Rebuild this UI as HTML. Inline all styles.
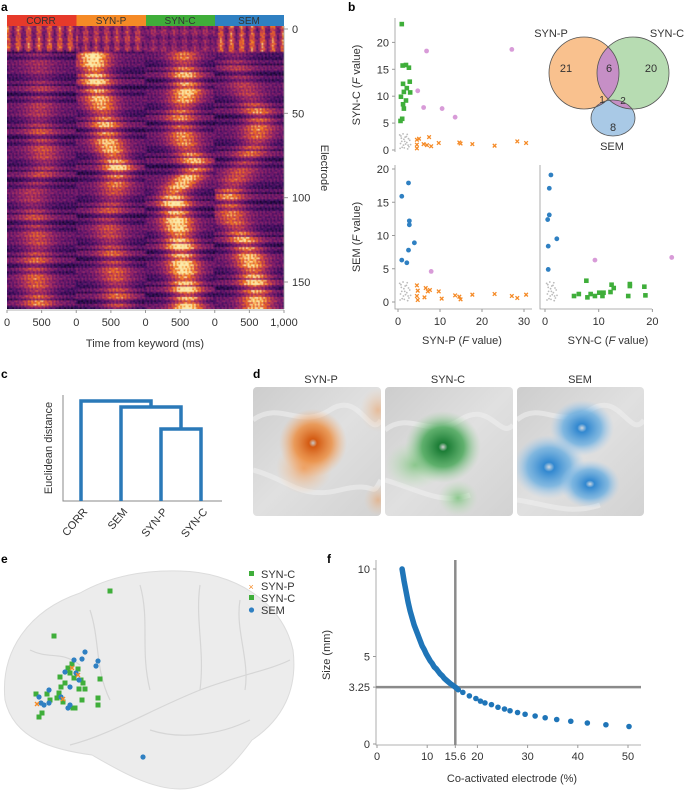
<!DOCTYPE html>
<html><head><meta charset="utf-8">
<style>
html,body{margin:0;padding:0;background:#fff;}
#root{position:relative;width:685px;height:790px;overflow:hidden;font-family:"Liberation Sans",sans-serif;}
#hm{position:absolute;left:7px;top:26px;}
svg{position:absolute;left:0;top:0;}
text{font-family:"Liberation Sans",sans-serif;fill:#333;}
.pl{font-size:12px;font-weight:bold;fill:#000;}
</style></head>
<body><div id="root">
<canvas id="hm" width="277" height="283"></canvas>
<svg id="sv" width="685" height="790">
<defs>
<linearGradient id="brainbg" x1="0" y1="0" x2="1" y2="1"><stop offset="0" stop-color="#cdcdcd"/><stop offset="0.5" stop-color="#e0e0e0"/><stop offset="1" stop-color="#d2d2d2"/></linearGradient>
<radialGradient id="go"><stop offset="0" stop-color="#c9c9c9"/><stop offset="0.12" stop-color="#d35a12"/><stop offset="0.55" stop-color="#ec8a3a" stop-opacity="0.8"/><stop offset="1" stop-color="#f6b27a" stop-opacity="0"/></radialGradient>
<radialGradient id="gol"><stop offset="0" stop-color="#ee9650" stop-opacity="0.8"/><stop offset="1" stop-color="#f6c090" stop-opacity="0"/></radialGradient>
<radialGradient id="gg"><stop offset="0" stop-color="#cfcfcf"/><stop offset="0.12" stop-color="#1c7d36"/><stop offset="0.55" stop-color="#4aa85a" stop-opacity="0.85"/><stop offset="1" stop-color="#9fd39f" stop-opacity="0"/></radialGradient>
<radialGradient id="ggl"><stop offset="0" stop-color="#7cc27e" stop-opacity="0.85"/><stop offset="1" stop-color="#b9e0b5" stop-opacity="0"/></radialGradient>
<radialGradient id="gb"><stop offset="0" stop-color="#cfd8e0"/><stop offset="0.15" stop-color="#3288d0"/><stop offset="0.6" stop-color="#6aaee0" stop-opacity="0.8"/><stop offset="1" stop-color="#a8cdee" stop-opacity="0"/></radialGradient>
<clipPath id="cP"><ellipse cx="584" cy="73" rx="35" ry="36"/></clipPath>
<clipPath id="cC"><ellipse cx="633" cy="73" rx="36" ry="36"/></clipPath>
<clipPath id="cd1"><rect x="253" y="387" width="128" height="129" rx="4"/></clipPath>
<clipPath id="cd2"><rect x="385" y="387" width="128" height="129" rx="4"/></clipPath>
<clipPath id="cd3"><rect x="517" y="387" width="127" height="129" rx="4"/></clipPath>
</defs>
<text class="pl" x="1" y="11">a</text>
<text class="pl" x="348" y="11">b</text>
<text class="pl" x="1" y="378">c</text>
<text class="pl" x="253" y="378">d</text>
<text class="pl" x="1" y="563">e</text>
<text class="pl" x="327" y="563">f</text>

<g>
<rect x="7" y="15" width="69.5" height="11" fill="#e63a2a"/>
<rect x="76.5" y="15" width="69.5" height="11" fill="#f58a26"/>
<rect x="146" y="15" width="69" height="11" fill="#3fae3a"/>
<rect x="215" y="15" width="69" height="11" fill="#2f80c2"/>
<text x="41" y="24" font-size="10" text-anchor="middle">CORR</text>
<text x="111" y="24" font-size="10" text-anchor="middle">SYN-P</text>
<text x="180" y="24" font-size="10" text-anchor="middle">SYN-C</text>
<text x="249" y="24" font-size="10" text-anchor="middle">SEM</text>
</g>
<g id="aAxes"></g>
<text x="145" y="347" font-size="11" text-anchor="middle">Time from keyword (ms)</text>
<text x="0" y="0" font-size="11" text-anchor="middle" transform="translate(321,168) rotate(90)">Electrode</text>

<g id="bPlots"></g>
<text transform="translate(360,85) rotate(-90)" font-size="11" text-anchor="middle">SYN-C (<tspan font-style="italic">F</tspan> value)</text>
<text transform="translate(360,237) rotate(-90)" font-size="11" text-anchor="middle">SEM (<tspan font-style="italic">F</tspan> value)</text>
<text x="462" y="344" font-size="11" text-anchor="middle">SYN-P (<tspan font-style="italic">F</tspan> value)</text>
<text x="608" y="344" font-size="11" text-anchor="middle">SYN-C (<tspan font-style="italic">F</tspan> value)</text>

<g>
<ellipse cx="584" cy="73" rx="35" ry="36" fill="#f9c18e"/>
<ellipse cx="633" cy="73" rx="36" ry="36" fill="#b7dcb2"/>
<ellipse cx="613" cy="118" rx="22" ry="18" fill="#a9c9e6"/>
<ellipse cx="633" cy="73" rx="36" ry="36" fill="#c68fc6" clip-path="url(#cP)"/>
<ellipse cx="613" cy="118" rx="22" ry="18" fill="#c68fc6" clip-path="url(#cP)"/>
<ellipse cx="613" cy="118" rx="22" ry="18" fill="#c68fc6" clip-path="url(#cC)"/>
<g fill="none" stroke="#555" stroke-width="0.8">
<ellipse cx="584" cy="73" rx="35" ry="36"/><ellipse cx="633" cy="73" rx="36" ry="36"/><ellipse cx="613" cy="118" rx="22" ry="18"/>
</g>
<g font-size="11" text-anchor="middle">
<text x="551" y="37">SYN-P</text><text x="667" y="37">SYN-C</text>
<text x="566" y="72">21</text><text x="609" y="72">6</text><text x="651" y="72">20</text>
<text x="602" y="103" font-size="10">1</text><text x="623" y="104" font-size="10">2</text><text x="613" y="131">8</text>
<text x="612" y="150">SEM</text>
</g>
</g>

<g>
<path d="M63,395 V501 H222" fill="none" stroke="#888" stroke-width="1"/>
<g fill="none" stroke="#2a79b8" stroke-width="3.5">
<path d="M81,501 V401 H151 V407"/>
<path d="M121,501 V407 H181 V429"/>
<path d="M161,501 V429 H201 V501"/>
</g>
<text transform="translate(52,448) rotate(-90)" font-size="11" text-anchor="middle">Euclidean distance</text>
<g font-size="11" text-anchor="end">
<text transform="translate(88,512) rotate(-50)">CORR</text>
<text transform="translate(128,512) rotate(-50)">SEM</text>
<text transform="translate(168,512) rotate(-50)">SYN-P</text>
<text transform="translate(208,512) rotate(-50)">SYN-C</text>
</g>
</g>

<g>
<text x="321" y="383" font-size="11" text-anchor="middle">SYN-P</text>
<text x="448" y="383" font-size="11" text-anchor="middle">SYN-C</text>
<text x="580" y="383" font-size="11" text-anchor="middle">SEM</text>
<g clip-path="url(#cd1)">
<rect x="253" y="387" width="128" height="129" fill="url(#brainbg)"/>
<path d="M253,420 C280,400 300,430 330,410 S370,440 381,420 M253,470 C290,480 300,500 340,490 S370,500 381,480" stroke="#eeeeee" stroke-opacity="0.6" stroke-width="5" fill="none"/>
<ellipse cx="304" cy="468" rx="28" ry="26" fill="url(#gol)"/>
<ellipse cx="313" cy="443" rx="34" ry="34" fill="url(#go)"/>
<ellipse cx="378" cy="410" rx="18" ry="22" fill="url(#gol)" opacity="0.6"/>
<ellipse cx="378" cy="500" rx="14" ry="16" fill="url(#gol)" opacity="0.6"/>
</g>
<g clip-path="url(#cd2)">
<rect x="385" y="387" width="128" height="129" fill="url(#brainbg)"/>
<path d="M385,430 C410,410 430,440 460,420 S500,440 513,425 M385,480 C420,490 440,505 470,495" stroke="#eeeeee" stroke-opacity="0.6" stroke-width="5" fill="none"/>
<ellipse cx="415" cy="465" rx="30" ry="24" fill="url(#ggl)"/>
<ellipse cx="458" cy="498" rx="20" ry="18" fill="url(#ggl)"/>
<ellipse cx="443" cy="447" rx="38" ry="36" fill="url(#gg)"/>
</g>
<g clip-path="url(#cd3)">
<rect x="517" y="387" width="127" height="129" fill="url(#brainbg)"/>
<path d="M517,420 C540,400 560,430 590,410 S630,440 644,420 M517,500 C550,505 570,515 600,505" stroke="#eeeeee" stroke-opacity="0.6" stroke-width="5" fill="none"/>
<ellipse cx="582" cy="428" rx="32" ry="28" fill="url(#gb)"/>
<ellipse cx="549" cy="467" rx="36" ry="32" fill="url(#gb)"/>
<ellipse cx="590" cy="484" rx="30" ry="24" fill="url(#gb)"/>
</g>
</g>

<g>
<path d="M5,700 C0,650 30,610 80,593 C110,576 145,570 180,571 C232,572 282,600 293,650 C298,690 282,720 252,740 C236,762 214,789 180,789 C150,789 118,770 92,755 C55,750 14,740 5,700 Z" fill="#ececec" stroke="#dcdcdc" stroke-width="1"/>
<g fill="none" stroke="#d6d6d6" stroke-width="1.2">
<path d="M70,745 C110,735 150,710 200,690 C240,675 270,670 290,660"/>
<path d="M90,610 C100,640 95,670 110,700"/><path d="M140,585 C150,620 140,650 150,690"/>
<path d="M200,585 C195,620 205,650 200,690"/><path d="M240,600 C235,630 250,660 245,690"/>
<path d="M30,650 C50,660 60,650 80,665"/><path d="M150,730 C180,740 220,735 250,720"/>
</g>
</g>
<g id="eDots"></g>
<g font-size="11">
<rect x="249" y="571" width="5" height="5" fill="#3fae3a"/><text x="261" y="578">SYN-C</text>
<text x="248.5" y="590" font-size="9" style="fill:#f58a26">×</text><text x="261" y="590">SYN-P</text>
<rect x="249" y="595" width="5" height="5" fill="#3fae3a"/><text x="261" y="602">SYN-C</text>
<circle cx="251.5" cy="610" r="2.6" fill="#2f80c2"/><text x="261" y="614">SEM</text>
</g>

<g id="fPlot"></g>
<text transform="translate(330,655) rotate(-90)" font-size="11" text-anchor="middle">Size (mm)</text>
<text x="512" y="782" font-size="11" text-anchor="middle">Co-activated electrode (%)</text>
</svg>
</div>
<script>
// ---------- Panel a heatmap data ----------
const conditions = ['CORR','SYN-P','SYN-C','SEM'];
const peakCORR = [500, 450, 500, 450, 500, 550, 350, 400, 450, 400, 450];
const ampCORR  = [0.75,0.25,0.3, 0.35,0.45,0.4, 0.3, 0.4, 0.45,0.5, 0.55];
const peakSYNP = [500, 250, 300, 400, 450, 600, 550, 450, 500, 550, 600];
const ampSYNP  = [0.55,0.9, 0.8, 0.65,0.75,0.8, 0.45,0.4, 0.45,0.5, 0.5];
const peakSYNC = [500, 550, 600, 500, 550, 750, 400, 450, 500, 550, 600];
const ampSYNC  = [0.3, 0.6, 0.85,0.55,0.65,0.7, 0.85,0.9, 0.85,0.9, 0.85];
const peakSEM  = [500, 300, 450, 650, 600, 400, 200, 250, 450, 550, 600];
const ampSEM   = [0.8, 0.3, 0.35,0.6, 0.55,0.4, 0.6, 0.55,0.7, 0.8, 0.75];
const rowMod = [0.0,-0.22,0.12,-0.05,0.18,-0.28,0.06,0.14,-0.12,0.22,-0.18,0.02,0.1,-0.25,0.05,0.16,-0.08,-0.2,0.12,0.0,0.2,-0.14,0.08,-0.3,0.1];
const colMod = [0.05,-0.1,0.12,-0.04,0.08,-0.12,0.1,0.0,-0.08,0.06,0.12,-0.06,0.02,-0.1,0.08];
const peaks = [peakCORR,peakSYNP,peakSYNC,peakSEM];
const amps = [ampCORR,ampSYNP,ampSYNC,ampSEM];
const nRows = 165, nCols = 40;
const magma = [[0,[0,0,4]],[0.2,[40,11,84]],[0.4,[101,21,110]],[0.6,[159,42,99]],[0.75,[212,72,66]],[0.88,[245,125,21]],[1,[252,235,170]]];
function cmap(v){v=Math.max(0,Math.min(1,v));for(let i=1;i<magma.length;i++){if(v<=magma[i][0]){const a=magma[i-1],b=magma[i],t=(v-a[0])/(b[0]-a[0]);return 'rgb('+a[1].map((c,k)=>Math.round(c+(b[1][k]-c)*t)).join(',')+')';}}return 'rgb(252,253,191)';}
(function(){
  const cv=document.getElementById('hm'),ctx=cv.getContext('2d');
  const W=277,H=283,bw=W/4,rh=H/nRows,cw=bw/nCols;
  for(let c=0;c<4;c++){
    for(let r=0;r<nRows;r++){
      let pk,am;
      const g0=Math.min(10,Math.floor(r/15));
      if(r<15){pk=peaks[c][0];am=amps[c][0];}
      else{
        const f=(r-22)/15+1; const gA=Math.max(1,Math.min(10,Math.floor(f))), gB=Math.min(10,gA+1), t=Math.max(0,Math.min(1,f-gA));
        pk=peaks[c][gA]*(1-t)+peaks[c][gB]*t; am=amps[c][gA]*(1-t)+amps[c][gB]*t;
      }
      const mod=rowMod[(r*7+c*3)%rowMod.length];
      for(let k=0;k<nCols;k++){
        const tm=k*25+12.5;
        const cm=colMod[(k+r*2+c*5)%colMod.length];
        let v;
        if(g0===0){ v=0.42+am*0.5*(0.5+0.5*Math.cos((k%6)*1.05+c))+mod*0.25+cm; }
        else { const d=(tm-pk)/240; v=0.34+mod*0.55+cm+am*0.7*Math.exp(-d*d)*(1+mod*0.6); }
        ctx.fillStyle=cmap(v);
        ctx.fillRect(c*bw+k*cw,r*rh,cw+0.6,rh+0.6);
      }
    }
  }
})();
const NS='http://www.w3.org/2000/svg';
function el(tag,attrs,parent,txt){const e=document.createElementNS(NS,tag);for(const k in attrs)e.setAttribute(k,attrs[k]);if(txt!==undefined)e.textContent=txt;parent.appendChild(e);return e;}
const timeTicks=[0,500];
const electrodeTicks=[0,50,100,150];
(function(){
  const g=document.getElementById('aAxes');
  const ey=r=>29+r*(282-29)/150;
  const ax=el('line',{x1:284,y1:26,x2:284,y2:309,stroke:'#999','stroke-width':0.8},g);
  
  electrodeTicks.forEach(r=>{el('line',{x1:284,x2:288,y1:ey(r),y2:ey(r),stroke:'#999'},g);const t=el('text',{x:292,y:ey(r)+4,'font-size':11},g,String(r));});
  el('line',{x1:7,y1:310,x2:284,y2:310,stroke:'#999','stroke-width':0.8},g);
  const bw=277/4;
  for(let c=0;c<4;c++){timeTicks.forEach(tv=>{const x=7+c*bw+tv/1000*bw;el('line',{x1:x,x2:x,y1:310,y2:313,stroke:'#999'},g);const t=el('text',{x:x,y:326,'font-size':11,'text-anchor':'middle'},g,String(tv));});}
  el('line',{x1:284,x2:284,y1:310,y2:313,stroke:'#999'},g);
  el('text',{x:284,y:326,'font-size':11,'text-anchor':'middle'},g,'1,000');
})();

// ---------- Panel b scatter data ----------
const tlGreenX=[0.9,1.1,1.9,2.6,1.2,2.8,2.1,1.4,2.9,0.7,1.9,1.2,1.4,0.6,1.0];
const tlGreenY=[23.4,15.7,15.8,15.3,12.3,12.7,11.5,10.8,10.7,9.9,9.2,8.5,7.7,5.4,5.8];
const tlPinkX=[6.8,27.1,4.7,6.1,10.5,13.6];
const tlPinkY=[18.4,18.7,11.0,7.9,7.7,6.1];
const tlOrangeX=[4.5,5.0,4.5,4.5,6.1,7.4,6.9,7.9,9.7,14.6,14.9,17.7,23.0,28.4,30.5];
const tlOrangeY=[1.9,2.1,1.0,0.3,1.1,2.4,0.9,0.7,1.3,1.4,1.2,1.1,0.8,1.6,1.3];
const grayX=[0.4,0.8,1.2,1.6,2.0,2.4,2.8,0.6,1.0,1.4,1.8,2.2,2.6,0.5,0.9,1.3,1.7,2.1,2.5,3.0,0.7,1.5,2.3];
const grayY=[2.8,2.2,3.0,1.6,2.5,0.9,1.8,1.2,0.5,2.0,1.1,2.9,0.6,0.3,1.6,0.9,2.4,1.4,2.1,1.0,2.6,0.4,0.2];
const blBlueX=[2.5,0.9,2.7,2.7,3.9,2.5,0.9,2.1];
const blBlueY=[17.9,15.9,12.2,11.6,8.9,7.8,6.3,5.9];
const blPinkX=[7.9], blPinkY=[4.6];
const blOrangeX=[4.5,4.7,4.5,4.7,6.6,7.1,7.6,6.3,9.7,10.4,13.6,14.6,14.9,17.7,23.0,27.1,28.4,30.5];
const blOrangeY=[2.5,1.7,0.9,0.3,2.1,1.6,1.8,0.7,1.6,0.5,1.0,0.8,0.4,1.1,1.2,0.9,0.6,1.1];
const brBlueX=[1.1,0.8,0.8,0.5,2.2,0.6,0.6];
const brBlueY=[19.1,17.1,13.1,12.4,9.5,8.4,4.9];
const brPinkX=[9.3,23.6], brPinkY=[6.3,6.7];
const brGreenX=[5.4,6.3,7.7,7.9,8.5,9.3,10.1,10.9,10.7,12.2,12.8,12.4,15.5,15.8,15.8,18.5,18.7];
const brGreenY=[0.9,1.2,3.2,0.7,1.2,0.9,1.4,1.4,0.9,1.5,2.1,2.6,0.9,2.4,2.7,2.3,1.0];
const fTicksY=[0,5,10,15,20];
const fTicksX1=[0,10,20,30];
const fTicksX2=[0,10,20];
(function(){
  const g=document.getElementById('bPlots');
  function marker(type,x,y,col,parent,name){
    let m;
    if(type==='sq'){m=el('rect',{x:x-2.3,y:y-2.3,width:4.6,height:4.6,fill:col},parent);}
    else if(type==='c'){m=el('circle',{cx:x,cy:y,r:2.4,fill:col},parent);}
    else if(type==='g'){m=el('circle',{cx:x,cy:y,r:0.9,fill:'#bbb'},parent);}
    else {m=el('path',{d:`M${x-1.8},${y-1.8}L${x+1.8},${y+1.8}M${x-1.8},${y+1.8}L${x+1.8},${y-1.8}`,stroke:col,'stroke-width':1.3},parent);}
    
    
  }
  function series(X,Y,sx,sy,type,col,parent,name){X.forEach((v,i)=>marker(type,sx(v),sy(Y[i]),col,parent,name));}
  const sxA=v=>398+v*4.2, syT=v=>150-v*5.38;
  const gt=el('g',{},g);
  el('line',{x1:395,y1:18,x2:395,y2:152,stroke:'#999','stroke-width':0.8},gt);
  fTicksY.forEach(v=>{el('line',{x1:392,x2:395,y1:syT(v),y2:syT(v),stroke:'#999'},gt);el('text',{x:389,y:syT(v)+4,'font-size':11,'text-anchor':'end'},gt,String(v));});
  series(grayX,grayY,sxA,syT,'g','#bbb',gt,'nonsig-point');
  series(tlOrangeX,tlOrangeY,sxA,syT,'x','#f58a26',gt,'syn-p-point');
  series(tlGreenX,tlGreenY,sxA,syT,'sq','#3fae3a',gt,'syn-c-point');
  series(tlPinkX,tlPinkY,sxA,syT,'c','#d89bd8',gt,'shared-point');
  const syB=v=>302-v*6.65;
  const gb=el('g',{},g);
  el('path',{d:'M395,165V309H532',fill:'none',stroke:'#999','stroke-width':0.8},gb);
  fTicksY.forEach(v=>{el('line',{x1:392,x2:395,y1:syB(v),y2:syB(v),stroke:'#999'},gb);el('text',{x:389,y:syB(v)+4,'font-size':11,'text-anchor':'end'},gb,String(v));});
  fTicksX1.forEach(v=>{el('line',{x1:sxA(v),x2:sxA(v),y1:309,y2:312,stroke:'#999'},gb);el('text',{x:sxA(v),y:325,'font-size':11,'text-anchor':'middle'},gb,String(v));});
  series(grayX,grayY,sxA,syB,'g','#bbb',gb,'nonsig-point');
  series(blOrangeX,blOrangeY,sxA,syB,'x','#f58a26',gb,'syn-p-point');
  series(blBlueX,blBlueY,sxA,syB,'c','#2f80c2',gb,'sem-point');
  series(blPinkX,blPinkY,sxA,syB,'c','#d89bd8',gb,'shared-point');
  const sxC=v=>545+v*5.37;
  const gr=el('g',{},g);
  el('path',{d:'M540,165V309H652',fill:'none',stroke:'#999','stroke-width':0.8},gr);
  fTicksX2.forEach(v=>{el('line',{x1:sxC(v),x2:sxC(v),y1:309,y2:312,stroke:'#999'},gr);el('text',{x:sxC(v),y:325,'font-size':11,'text-anchor':'middle'},gr,String(v));});
  series(grayX,grayY,v=>545+v*4,syB,'g','#bbb',gr,'nonsig-point');
  series(brGreenX,brGreenY,sxC,syB,'sq','#3fae3a',gr,'syn-c-point');
  series(brBlueX,brBlueY,sxC,syB,'c','#2f80c2',gr,'sem-point');
  series(brPinkX,brPinkY,sxC,syB,'c','#d89bd8',gr,'shared-point');
})();

// ---------- Panel e electrode positions ----------
const eGreenX=[110,54,68,72,70,74,65,61,59,57,63,81,83,79,85,82,98,98,100,36,39,42,60,78,73,75,47,50];
const eGreenY=[591,636,668,664,673,678,683,687,693,698,702,680,683,689,689,700,698,705,679,694,717,713,677,669,708,708,694,700];
const eBlueX=[85,74,82,98,96,65,79,70,49,61,49,39,44,68,70,143,76,41];
const eBlueY=[652,660,659,661,666,672,680,687,690,697,703,697,705,708,705,757,673,703];
const eOrangeX=[72,78,63,37];
const eOrangeY=[668,675,699,704];
(function(){
  const g=document.getElementById('eDots');
  eGreenX.forEach((x,i)=>{const r=el('rect',{x:x-2.5,y:eGreenY[i]-2.5,width:5,height:5,fill:'#3fae3a'},g);});
  eBlueX.forEach((x,i)=>{const c=el('circle',{cx:x,cy:eBlueY[i],r:2.6,fill:'#2f80c2'},g);});
  eOrangeX.forEach((x,i)=>{const y=eOrangeY[i];const p=el('path',{d:`M${x-2},${y-2}L${x+2},${y+2}M${x-2},${y+2}L${x+2},${y-2}`,stroke:'#f58a26','stroke-width':1.4},g);});
})();

// ---------- Panel f data ----------
const coactDense=[5.0,5.4,5.8,6.2,6.6,7.0,7.4,7.8,8.2,8.6,9.0,9.4,9.8,10.2,10.6,11.0,11.4,11.8,12.2,12.6,13.0,13.4,13.8,14.2,14.6,15.0,15.6,16.2];
const sizeDense=[10.0,9.3,8.7,8.1,7.6,7.2,6.8,6.5,6.2,5.9,5.6,5.4,5.15,4.95,4.75,4.6,4.4,4.3,4.15,4.0,3.9,3.75,3.65,3.55,3.45,3.37,3.25,3.1];
const coactSparse=[17.1,18.4,19.7,20.6,21.5,22.8,24.1,25.4,26.5,28,29.5,31.5,33.5,35.8,38.6,41.9,45.6,50.2];
const sizeSparse=[2.95,2.75,2.6,2.45,2.35,2.25,2.1,2.0,1.9,1.8,1.7,1.6,1.5,1.4,1.3,1.2,1.1,1.0];
const fXTicks=[0,10,15.6,20,30,40,50];
const fXTickLabels=['0','10','15.6','20','30','40','50'];
const fYTicks=[0,3.25,5,10];
const fYTickLabels=['0','3.25','5','10'];
const thresholdX=[15.6], thresholdY=[3.25];
(function(){
  const g=document.getElementById('fPlot');
  const sx=v=>377+v*5.02, sy=v=>744-v*17.5;
  el('path',{d:'M376,560V745H641',fill:'none',stroke:'#999','stroke-width':0.8},g);
  fXTicks.forEach((v,i)=>{el('line',{x1:sx(v),x2:sx(v),y1:745,y2:748,stroke:'#999'},g);const t=el('text',{x:sx(v),y:760,'font-size':11,'text-anchor':'middle'},g,fXTickLabels[i]);});
  fYTicks.forEach((v,i)=>{el('line',{x1:373,x2:376,y1:sy(v),y2:sy(v),stroke:'#999'},g);const t=el('text',{x:370,y:sy(v)+4,'font-size':11,'text-anchor':'end'},g,fYTickLabels[i]);});
  const vl=el('line',{x1:sx(thresholdX[0]),x2:sx(thresholdX[0]),y1:560,y2:745,stroke:'#8a8a8a','stroke-width':2.5},g);
  
  const hl=el('line',{x1:376,x2:641,y1:sy(thresholdY[0]),y2:sy(thresholdY[0]),stroke:'#8a8a8a','stroke-width':2.5},g);
  
  const pts=coactDense.map((v,i)=>sx(v)+','+sy(sizeDense[i])).join(' ');
  const pl=el('polyline',{points:pts,fill:'none',stroke:'#1f75b8','stroke-width':5.5,'stroke-linecap':'round'},g);
  
  coactSparse.forEach((v,i)=>{const c=el('circle',{cx:sx(v),cy:sy(sizeSparse[i]),r:2.8,fill:'#1f75b8'},g);});
})();
</script>
</body></html>
